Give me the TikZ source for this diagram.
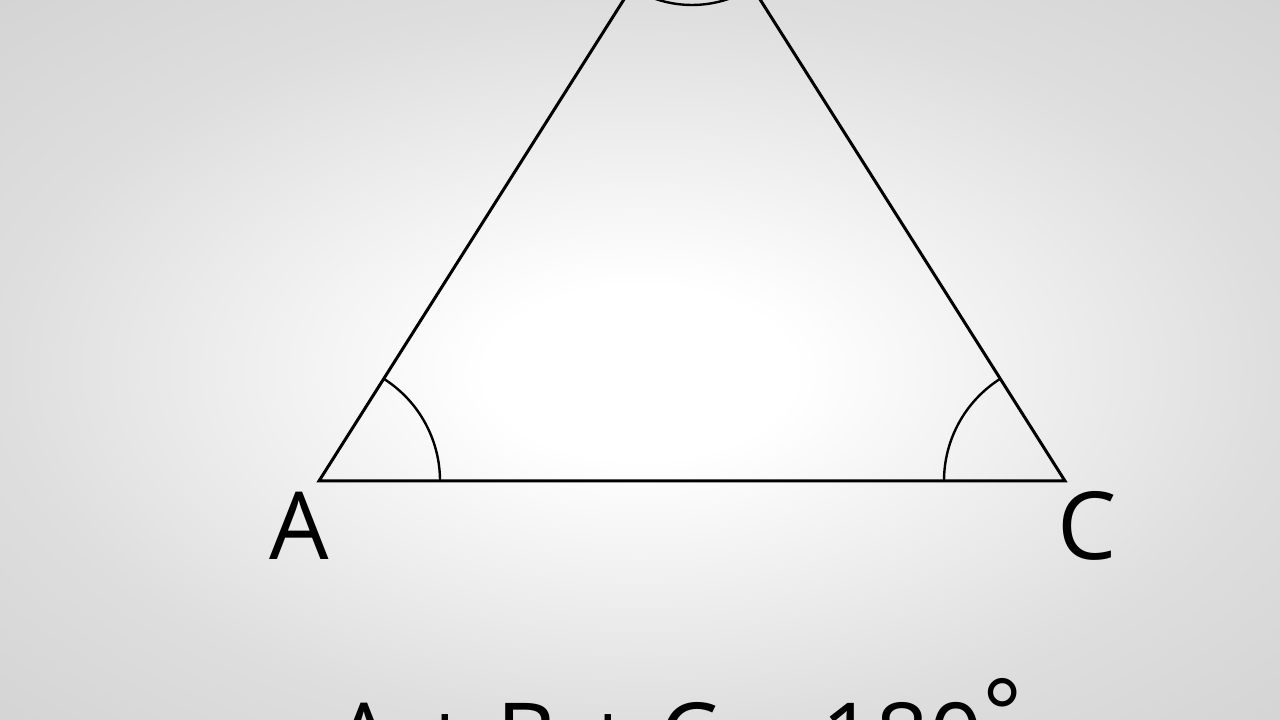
\documentclass[tikz,border=0pt]{standalone}
\usepackage{fontspec}
\setmainfont{Open Sans}
\usetikzlibrary{angles}
\pgfdeclareradialshading{paper}{\pgfpoint{0bp}{-1bp}}{color(0bp)=(white); color(6bp)=(white); color(25bp)=(black!13); color(36bp)=(black!17); color(50bp)=(black!18)}
\tikzset{
  side/.style={line width=3pt,line join=miter},
  mark angle/.style={draw,line width=2.4pt,angle radius=#1},
  vertex label/.style={anchor=base,inner sep=0pt,font=\fontsize{94}{100}\selectfont}
}
\begin{document}
\begin{tikzpicture}[x=1pt,y=1pt]
  % draw shaded background
  \useasboundingbox (0,0) rectangle (1280,720);
  \clip (0,0) rectangle (1280,720);
  \shade[shading=paper] (0,0) rectangle (1280,720);
  % draw triangle corners
  \node at(319,239)[coordinate](a){};
  \node at(692,828)[coordinate](b){};
  \node at(1065,239)[coordinate](c){};
  % draw triangle
  \draw [side](a) -- (b) -- (c) -- cycle;
  % draw angle arcs
  \pic [mark angle=121pt]{angle=c--a--b};
  \pic [mark angle=113pt]{angle=a--b--c};
  \pic [mark angle=121pt]{angle=b--c--a};
  % draw "A" and "C" labels
  \node at(299,160)[vertex label](alabel){A};
  \node at(1087,160)[vertex label](clabel){C};
  % draw angle sum text
  \node at(334,-51)[vertex label,anchor=base west](anglesum){A + B + C = 180\raisebox{24pt}{°}};
\end{tikzpicture}
\end{document}
